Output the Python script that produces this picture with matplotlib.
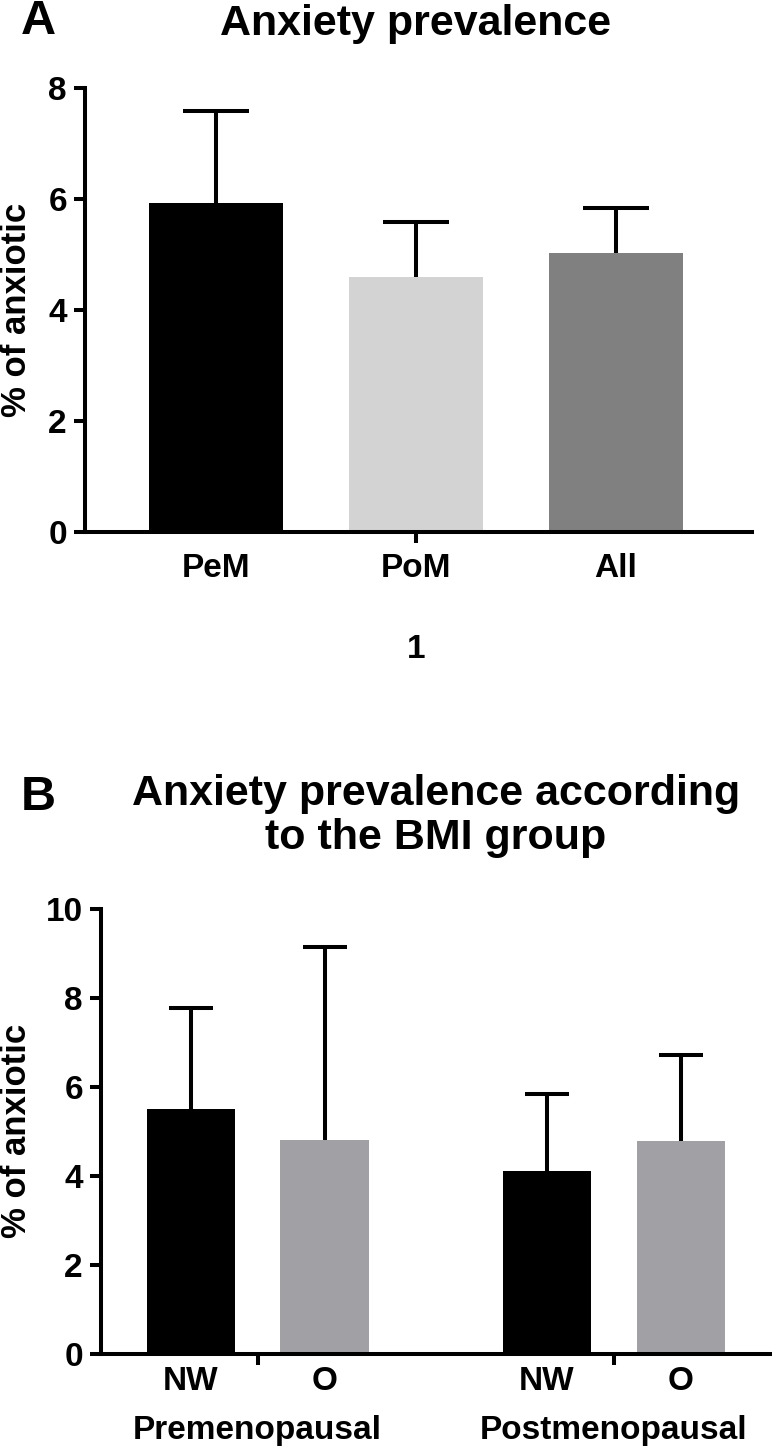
import matplotlib
matplotlib.use('Agg')
import matplotlib.pyplot as plt
import matplotlib.transforms as mtransforms

plt.rcParams['font.family'] = ['Liberation Sans', 'DejaVu Sans']
plt.rcParams['font.weight'] = 'bold'

# ---------------- data ----------------
# Panel A
a_categories = ['PeM', 'PoM', 'All']
a_values = [5.92, 4.60, 5.02]
a_err_upper = [1.66, 0.98, 0.82]
a_colors = ['#000000', '#d3d3d3', '#808080']
a_group_label = '1'
a_title = 'Anxiety prevalence'
a_yticks = [0, 2, 4, 6, 8]

# Panel B
b_groups = ['Premenopausal', 'Postmenopausal']
b_subgroups = ['NW', 'O']
b_values_nw = [5.50, 4.12]
b_values_o = [4.80, 4.78]
b_err_nw = [2.28, 1.73]
b_err_o = [4.35, 1.94]
b_colors = ['#000000', '#a1a1a5']
b_title = 'Anxiety prevalence according\nto the BMI group'
b_yticks = [0, 2, 4, 6, 8, 10]

ylabel = '% of anxiotic'

# ---------------- figure ----------------
W, H = 772, 1447
fig = plt.figure(figsize=(W / 100, H / 100), dpi=100)

LW = 2.9
TICK_FS = 24
LABEL_FS = 25
TITLE_FS = 31
LETTER_FS = 35


def px_axes(left, right, top, bottom):
    return fig.add_axes([left / W, 1 - bottom / H, (right - left) / W, (bottom - top) / H])


def style(ax):
    for s in ['top', 'right']:
        ax.spines[s].set_visible(False)
    for s in ['left', 'bottom']:
        ax.spines[s].set_linewidth(LW)
    ax.tick_params(axis='y', which='major', width=LW, length=8, pad=5, labelsize=TICK_FS)
    ax.tick_params(axis='x', which='major', width=LW, length=8, labelsize=TICK_FS)


def upper_only(container, values):
    # hide the lower caps (drawn at the bar tops)
    caps = container.errorbar.lines[1]
    for cap in caps:
        yd = list(cap.get_ydata())
        if all(abs(a - b) < 1e-9 for a, b in zip(yd, values)):
            cap.set_visible(False)


# ---------- Panel A ----------
axA = px_axes(85, 752, 88, 532)
xa = list(range(len(a_categories)))
barsA = axA.bar(xa, a_values, width=0.67, color=a_colors, edgecolor='none',
                yerr=[[0] * len(a_values), a_err_upper],
                error_kw=dict(ecolor='black', elinewidth=LW, capsize=24, capthick=LW))
upper_only(barsA, a_values)
axA.set_ylim(0, 8)
axA.set_xlim(-0.655, 2.68)
axA.set_yticks(a_yticks)
style(axA)
axA.xaxis.remove_overlapping_locs = False
axA.set_xticks([1])
axA.set_xticklabels([''])
axA.set_xticks(xa, minor=True)
axA.set_xticklabels(a_categories, minor=True)
axA.tick_params(axis='x', which='minor', length=0, pad=15, labelsize=TICK_FS)
axA.text(1, -(650 - 532) / 444, a_group_label,
         transform=mtransforms.blended_transform_factory(axA.transData, axA.transAxes),
         ha='center', va='center', fontsize=TICK_FS, fontweight='bold')
fig.text(416 / W, 1 - 24 / H, a_title, ha='center', va='center', fontsize=TITLE_FS, fontweight='bold')
fig.text(38 / W, 1 - 22 / H, 'A', ha='center', va='center', fontsize=LETTER_FS, fontweight='bold')
fig.text(17 / W, 1 - 310 / H, ylabel, rotation=90, ha='center', va='center', fontsize=LABEL_FS, fontweight='bold')

# ---------- Panel B ----------
axB = px_axes(101, 772, 909, 1354)
group_step = 2.66
xb_nw = [gi * group_step for gi in range(len(b_groups))]
xb_o = [gi * group_step + 1 for gi in range(len(b_groups))]
barsB1 = axB.bar(xb_nw, b_values_nw, width=0.66, color=b_colors[0], edgecolor='none',
                 yerr=[[0] * len(b_values_nw), b_err_nw],
                 error_kw=dict(ecolor='black', elinewidth=LW, capsize=16, capthick=LW))
barsB2 = axB.bar(xb_o, b_values_o, width=0.66, color=b_colors[1], edgecolor='none',
                 yerr=[[0] * len(b_values_o), b_err_o],
                 error_kw=dict(ecolor='black', elinewidth=LW, capsize=16, capthick=LW))
upper_only(barsB1, b_values_nw)
upper_only(barsB2, b_values_o)
axB.set_ylim(0, 10)
axB.set_xlim(-0.67, 4.34)
axB.set_yticks(b_yticks)
style(axB)
axB.xaxis.remove_overlapping_locs = False
centers = [gi * group_step + 0.5 for gi in range(len(b_groups))]
axB.set_xticks(centers)
axB.set_xticklabels([''] * len(centers))
sub_pos = sorted(xb_nw + xb_o)
sub_lab = [b_subgroups[i % 2] for i in range(len(sub_pos))]
axB.set_xticks(sub_pos, minor=True)
axB.set_xticklabels(sub_lab, minor=True)
axB.tick_params(axis='x', which='minor', length=0, pad=9, labelsize=TICK_FS)
tB = mtransforms.blended_transform_factory(axB.transData, axB.transAxes)
for c, g in zip(centers, b_groups):
    axB.text(c, -(1430 - 1354) / 445, g, transform=tB, ha='center', va='center',
             fontsize=TICK_FS, fontweight='bold')
fig.text(436 / W, 1 - 816 / H, b_title, ha='center', va='center', fontsize=TITLE_FS,
         fontweight='bold', linespacing=1.1, multialignment='center')
fig.text(38 / W, 1 - 797 / H, 'B', ha='center', va='center', fontsize=LETTER_FS, fontweight='bold')
fig.text(17 / W, 1 - 1131 / H, ylabel, rotation=90, ha='center', va='center', fontsize=LABEL_FS, fontweight='bold')

fig.savefig('out.png', dpi=100)
